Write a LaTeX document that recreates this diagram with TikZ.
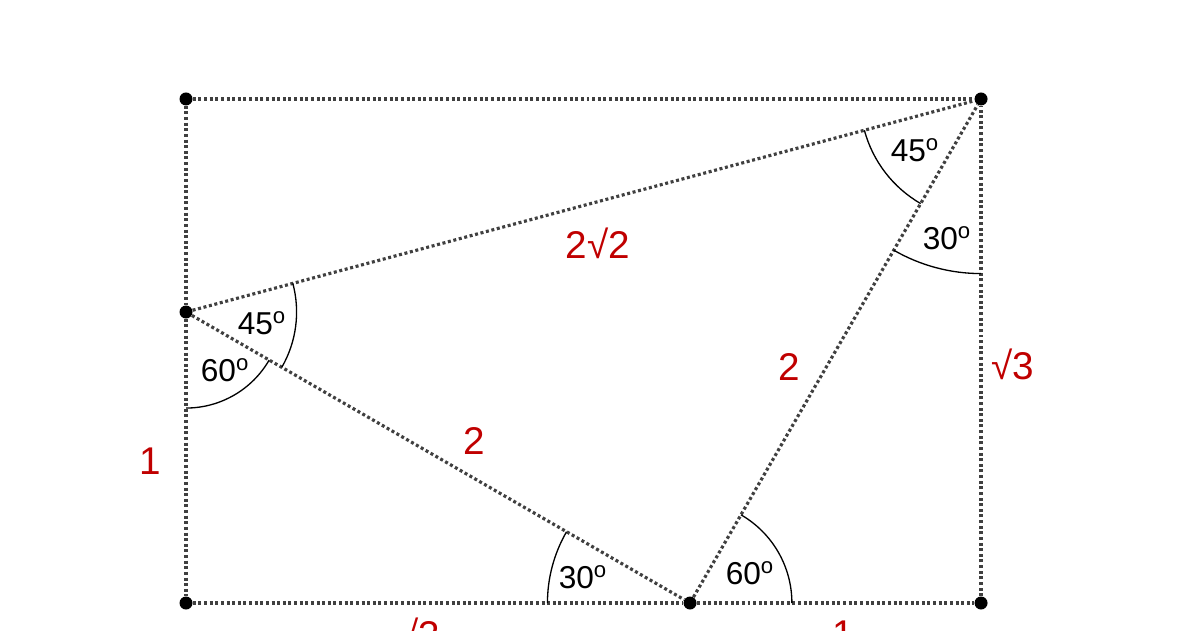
\documentclass[tikz,border=0pt]{standalone}
\usepackage{fontspec}
\setmainfont{Liberation Sans}
\definecolor{labelred}{RGB}{192,0,0}

\begin{document}
\begin{tikzpicture}[x=5.82cm,y=5.82cm,
    dotline/.style={line width=1.8pt,black!75,dash pattern=on 1.7pt off 1.5pt},
    vertex/.style={circle,fill=black,inner sep=0pt,minimum size=0.26cm},
    anglearc/.style={line width=0.75pt},
    anglelab/.style={font=\fontsize{18}{20}\selectfont},
    sidelab/.style={font=\fontsize{22}{24}\selectfont,text=labelred}]
       \useasboundingbox (-0.6392,-0.0928) rectangle (3.4845,2.0722);
       % Draw the points
       \node[vertex] (BL) at (0,0) {};
       \node[vertex] (L) at (0,1) {};
       \node[vertex] (TL) at (0,{sqrt(3)}) {};
       \node[vertex] (P) at ({sqrt(3)},0) {};
       \node[vertex] (BR) at ({sqrt(3)+1},0) {};
       \node[vertex] (TR) at ({sqrt(3)+1},{sqrt(3)}) {};
       % Draw the rectangle
       \draw[dotline] (TL) -- (TR);
       \draw[dotline] (TL) -- (L);
       \draw[dotline] (L) -- (BL);
       \draw[dotline] (BL) -- (P);
       \draw[dotline] (P) -- (BR);
       \draw[dotline] (BR) -- (TR);
       % Draw the triangle
       \draw[dotline] (L) -- (TR);
       \draw[dotline] (L) -- (P);
       \draw[dotline] (P) -- (TR);

       % Draw the angles
       \draw[anglearc] ([shift=(270:0.33)]L.center) arc[start angle=270,end angle=330,radius=0.33];
       \draw[anglearc] ([shift=(-30:0.38)]L.center) arc[start angle=-30,end angle=15,radius=0.38];
       \draw[anglearc] ([shift=(150:0.49)]P.center) arc[start angle=150,end angle=180,radius=0.49];
       \draw[anglearc] ([shift=(0:0.35)]P.center) arc[start angle=0,end angle=60,radius=0.35];
       \draw[anglearc] ([shift=(195:0.415)]TR.center) arc[start angle=195,end angle=240,radius=0.415];
       \draw[anglearc] ([shift=(240:0.6)]TR.center) arc[start angle=240,end angle=270,radius=0.6];

       \node[anglelab] (aL45) at (0.261,0.962) {45\textsuperscript{o}};
       \node[anglelab] (aL60) at (0.134,0.801) {60\textsuperscript{o}};
       \node[anglelab] (aP30) at (1.364,0.089) {30\textsuperscript{o}};
       \node[anglelab] (aP60) at (1.938,0.103) {60\textsuperscript{o}};
       \node[anglelab] (aT45) at (2.505,1.557) {45\textsuperscript{o}};
       \node[anglelab] (aT30) at (2.615,1.254) {30\textsuperscript{o}};

       % Side lengths
       \node[sidelab] (sLT) at (1.416,1.237) {2√2};
       \node[sidelab] (sLP) at (0.990,0.557) {2};
       \node[sidelab] (sPT) at (2.072,0.811) {2};
       \node[sidelab] (sR) at (2.842,0.821) {√3};
       \node[sidelab] (sL) at (-0.124,0.488) {1};
       \node[sidelab] (sB1) at (0.801,-0.103) {√3};
       \node[sidelab] (sB2) at (2.258,-0.107) {1};
\end{tikzpicture}
\end{document}
